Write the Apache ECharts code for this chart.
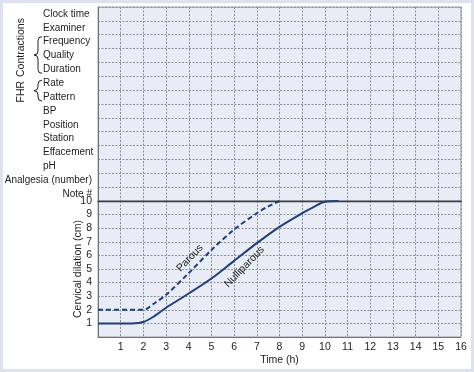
<!DOCTYPE html>
<html>
<head>
<meta charset="utf-8">
<script src="https://cdn.jsdelivr.net/npm/echarts@6/dist/echarts.min.js"></script>
<style>
html,body{margin:0;padding:0;background:#fff;}
#c{width:474px;height:372px;}
</style>
</head>
<body>
<div id="c"></div>
<script>
// ---- data ----
var rowLabels = ['Clock time','Examiner','Frequency','Quality','Duration','Rate','Pattern','BP','Position','Station','Effacement','pH','Analgesia (number)','Note #'];
var rightAlignedRows = ['Analgesia (number)','Note #'];
var timeTicks = [1,2,3,4,5,6,7,8,9,10,11,12,13,14,15,16];
var dilationTicks = [1,2,3,4,5,6,7,8,9,10];
var nulliparousTime = [0, 1.5, 2, 2.5, 3, 4, 5, 6, 7, 8, 9, 9.5, 10, 10.6];
var nulliparousDil  = [1, 1, 1.1, 1.55, 2.15, 3.2, 4.3, 5.6, 6.9, 8.1, 9.1, 9.55, 9.95, 10];
var parousTime = [0, 2, 2.5, 3, 4, 5, 6, 7, 7.5, 8];
var parousDil  = [2, 2, 2.5, 3.1, 4.7, 6.4, 7.9, 9.1, 9.6, 10];
var curveLabels = [
  {text:'Parous', t:4.05, v:5.8},
  {text:'Nulliparous', t:6.45, v:5.15}
];

function pairs(xs, ys){ return xs.map(function(x,i){ return [x, ys[i]]; }); }

var navy = '#1d3f7c';
var font = 'Liberation Sans, Arial, sans-serif';
var txt = '#1e1e1e';
var chart = echarts.init(document.getElementById('c'));
var dotted = {show:true, lineStyle:{color:'#8a8f9a', type:[2,1.5], width:1}};

var option = {
  animation:false,
  backgroundColor:'#fff',
  textStyle:{fontFamily:font},
  grid:[
    {left:98, right:13, top:7, height:194, show:true, backgroundColor:'#e9ecf5', borderColor:'#9a9da5', borderWidth:1},
    {left:98, right:13, top:201, height:136, show:true, backgroundColor:'#e9ecf5', borderColor:'#9a9da5', borderWidth:1}
  ],
  xAxis:[
    {gridIndex:0, type:'value', min:0, max:16, interval:1, position:'bottom',
     axisLine:{show:true, lineStyle:{color:'#3a3c40', width:1.3}},
     axisTick:{show:false}, axisLabel:{show:false}, splitLine:dotted},
    {gridIndex:1, type:'value', min:0, max:16, interval:1,
     axisLine:{show:true, lineStyle:{color:'#6f737b'}}, axisTick:{show:false},
     axisLabel:{color:txt, fontSize:10.5, fontFamily:font, margin:5,
       formatter:function(v){ return timeTicks.indexOf(v) >= 0 ? String(v) : ''; }},
     splitLine:dotted,
     name:'Time (h)', nameLocation:'middle', nameGap:18, nameMoveOverlap:false,
     nameTextStyle:{color:txt, fontSize:10.5, fontFamily:font}}
  ],
  yAxis:[
    {gridIndex:0, type:'category', inverse:true, data:rowLabels, boundaryGap:true,
     axisLine:{show:true, lineStyle:{color:'#6f737b'}}, axisTick:{show:false},
     splitLine:dotted,
     axisLabel:{interval:0, color:txt, fontSize:10, fontFamily:font, align:'right', margin:6,
       formatter:function(v){ return rightAlignedRows.indexOf(v) >= 0 ? v : '{l|' + v + '}'; },
       rich:{l:{width:49, align:'left', fontSize:10, fontFamily:font, color:txt}}}},
    {gridIndex:1, type:'value', min:0, max:10, interval:1,
     axisLine:{show:true, lineStyle:{color:'#6f737b'}}, axisTick:{show:false},
     splitLine:dotted,
     axisLabel:{color:txt, fontSize:10.5, fontFamily:font, margin:6,
       formatter:function(v){ return dilationTicks.indexOf(v) >= 0 ? String(v) : ''; }},
     name:'Cervical dilation (cm)', nameLocation:'middle', nameGap:14, nameRotate:90, nameMoveOverlap:false,
     nameTextStyle:{color:txt, fontSize:10.5, fontFamily:font}}
  ],
  series:[
    {type:'line', xAxisIndex:1, yAxisIndex:1, data:pairs(nulliparousTime, nulliparousDil),
     smooth:0.3, showSymbol:false, lineStyle:{color:navy, width:2}, z:5},
    {type:'line', xAxisIndex:1, yAxisIndex:1, data:pairs(parousTime, parousDil),
     smooth:0.3, showSymbol:false, lineStyle:{color:navy, width:2, type:[5,3]}, z:5}
  ]
};
chart.setOption(option);

// annotations: labels positioned from data coords, braces & group labels
var g = [];
curveLabels.forEach(function(c){
  var p = chart.convertToPixel({xAxisIndex:1, yAxisIndex:1}, [c.t, c.v]);
  g.push({type:'text', x:p[0], y:p[1], rotation:Math.PI/180*46, z:10,
    style:{text:c.text, fill:txt, fontSize:10.5, fontFamily:font, textAlign:'center', textVerticalAlign:'middle'}});
});
function rowY(name){ return chart.convertToPixel({yAxisIndex:0}, name); }
var stroke = {stroke:txt, lineWidth:1, fill:'none'};
function brace(top, bottom, x){
  var mid = (top+bottom)/2, w = 4, r = 4;
  return [
    {type:'bezierCurve', z:10, shape:{x1:x+w, y1:top, cpx1:x, cpy1:top, x2:x, y2:top+r}, style:stroke},
    {type:'line', z:10, shape:{x1:x, y1:top+r, x2:x, y2:mid-r}, style:stroke},
    {type:'bezierCurve', z:10, shape:{x1:x, y1:mid-r, cpx1:x, cpy1:mid, x2:x-w, y2:mid}, style:stroke},
    {type:'bezierCurve', z:10, shape:{x1:x-w, y1:mid, cpx1:x, cpy1:mid, x2:x, y2:mid+r}, style:stroke},
    {type:'line', z:10, shape:{x1:x, y1:mid+r, x2:x, y2:bottom-r}, style:stroke},
    {type:'bezierCurve', z:10, shape:{x1:x, y1:bottom-r, cpx1:x, cpy1:bottom, x2:x+w, y2:bottom}, style:stroke}
  ];
}
var bTop1 = rowY('Frequency') - 5, bBot1 = rowY('Duration') + 4;
var bTop2 = rowY('Rate') - 3, bBot2 = rowY('Pattern') + 4;
g = g.concat(brace(bTop1, bBot1, 38), brace(bTop2, bBot2, 38));
g.push({type:'text', x:21, y:(rowY('Examiner')+rowY('Duration'))/2 - 1, rotation:Math.PI/2, z:10,
  style:{text:'Contractions', fill:txt, fontSize:10.5, fontFamily:font, textAlign:'center', textVerticalAlign:'middle'}});
g.push({type:'text', x:21, y:(bTop2+bBot2)/2 + 1, rotation:Math.PI/2, z:10,
  style:{text:'FHR', fill:txt, fontSize:10.5, fontFamily:font, textAlign:'center', textVerticalAlign:'middle'}});
g.push({type:'rect', z:0, silent:true, shape:{x:0, y:0, width:474, height:372},
  style:{fill:'none', stroke:'#dde2ee', lineWidth:6}});
chart.setOption({graphic:g});
</script>
</body>
</html>
